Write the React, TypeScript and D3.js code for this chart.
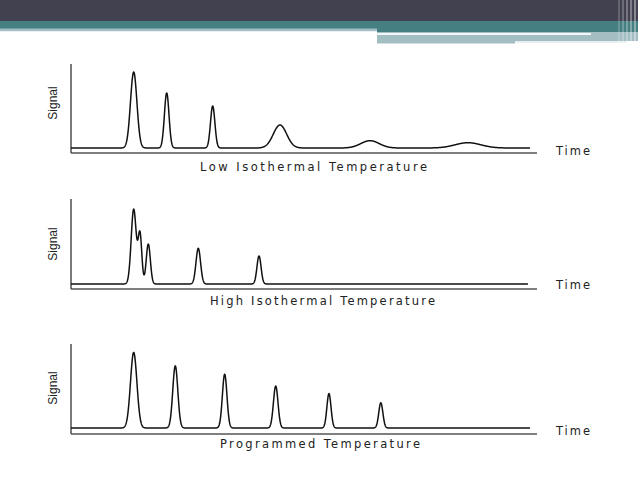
import React from "react";
import * as d3 from "d3";

// ---- Data (peak retention time in % of run, height in % of panel, width sigma in % of run)
const lowTimes = [13.66, 20.85, 30.87, 45.53, 65.14, 86.49];
const lowHeights = [90.5, 65.5, 50, 27.4, 8.7, 6.3];
const lowWidths = [0.7, 0.5, 0.48, 1.45, 2.0, 2.8];

const highTimes = [13.66, 15.03, 16.84, 27.73, 40.96];
const highHeights = [88, 58, 47, 42, 33];
const highWidths = [0.55, 0.4, 0.45, 0.5, 0.45];

const progTimes = [13.66, 22.72, 33.48, 44.6, 56.2, 67.5];
const progHeights = [90, 74, 64, 50, 41, 30];
const progWidths = [0.7, 0.55, 0.5, 0.5, 0.45, 0.45];

const captions = ["Low Isothermal Temperature", "High Isothermal Temperature", "Programmed Temperature"];
const yLabel = "Signal";
const xLabel = "Time";

type Panel = {
  times: number[];
  heights: number[];
  widths: number[];
  caption: string;
  top: number;
  base: number;
  axisY: number;
  endX: number;
  capX: number;
  capW: number;
  capY: number;
  sigY: number;
  timeY: number;
};

const panels: Panel[] = [
  { times: lowTimes, heights: lowHeights, widths: lowWidths, caption: captions[0], top: 64, base: 148, axisY: 153, endX: 530, capX: 200, capW: 227, capY: 171, sigY: 103, timeY: 155 },
  { times: highTimes, heights: highHeights, widths: highWidths, caption: captions[1], top: 199, base: 284, axisY: 289, endX: 528, capX: 210, capW: 225, capY: 305, sigY: 244, timeY: 289 },
  { times: progTimes, heights: progHeights, widths: progWidths, caption: captions[2], top: 344, base: 428, axisY: 434, endX: 530, capX: 220, capW: 200, capY: 448, sigY: 388, timeY: 435 },
];

function signal(t: number, p: Panel) {
  let s = 0;
  for (let i = 0; i < p.times.length; i++) {
    const d = (t - p.times[i]) / p.widths[i];
    s += p.heights[i] * Math.exp(-0.5 * d * d);
  }
  return s;
}

function PanelView({ p }: { p: Panel }) {
  const x = d3.scaleLinear().domain([0, 100]).range([71, 530]);
  const y = d3.scaleLinear().domain([0, 100]).range([p.base, p.top]);
  const tMax = x.invert(p.endX);
  const ts = d3.range(0, tMax + 0.0001, 0.05);
  const line = d3
    .line<number>()
    .x((t) => x(t))
    .y((t) => y(signal(t, p)));
  return (
    <g>
      <line x1={71} y1={p.top} x2={71} y2={p.axisY} stroke="#333" strokeWidth={1.3} />
      <line x1={71} y1={p.axisY} x2={537} y2={p.axisY} stroke="#555" strokeWidth={1.5} />
      <path d={line(ts) || ""} fill="none" stroke="#111" strokeWidth={1.5} strokeLinejoin="round" />
      <text
        transform={`translate(57,${p.sigY}) rotate(-90)`}
        textAnchor="middle"
        fontFamily="Liberation Sans, Arial, sans-serif"
        fontSize={12}
        fill="#222"
      >
        {yLabel}
      </text>
      <text
        x={p.capX}
        y={p.capY}
        textLength={p.capW}
        lengthAdjust="spacing"
        fontFamily="DejaVu Sans, sans-serif"
        fontSize={11.5}
        fill="#222"
      >
        {p.caption}
      </text>
      <text
        x={556}
        y={p.timeY}
        textLength={34}
        lengthAdjust="spacing"
        fontFamily="DejaVu Sans, sans-serif"
        fontSize={11.5}
        fill="#222"
      >
        {xLabel}
      </text>
    </g>
  );
}

function Header() {
  const stripes = [618, 622, 626, 630, 634];
  return (
    <g>
      <rect x={0} y={0} width={638} height={21} fill="#42414f" />
      <rect x={0} y={21} width={638} height={8} fill="#467f81" />
      <rect x={0} y={28.5} width={377} height={2.7} fill="#a2bec3" />
      <rect x={377} y={28.5} width={261} height={3.5} fill="#467f81" />
      <rect x={377} y={32} width={261} height={9} fill="#a2bec3" />
      <rect x={377} y={33} width={214} height={2} fill="#f4f7f7" />
      <rect x={377} y={41} width={138} height={2.5} fill="#a2bec3" />
      <rect x={515} y={41} width={112} height={2} fill="#e9eff0" />
      {stripes.map((sx, i) => (
        <rect key={sx} x={sx} y={0} width={2} height={43} fill="#ffffff" opacity={0.18 + i * 0.05} />
      ))}
    </g>
  );
}

export default function App() {
  return (
    <svg
      width={638}
      height={479}
      style={{ position: "absolute", left: 0, top: 0, background: "#fff" }}
    >
      <rect x={0} y={0} width={638} height={479} fill="#fff" />
      <Header />
      {panels.map((p, i) => (
        <PanelView key={i} p={p} />
      ))}
    </svg>
  );
}
